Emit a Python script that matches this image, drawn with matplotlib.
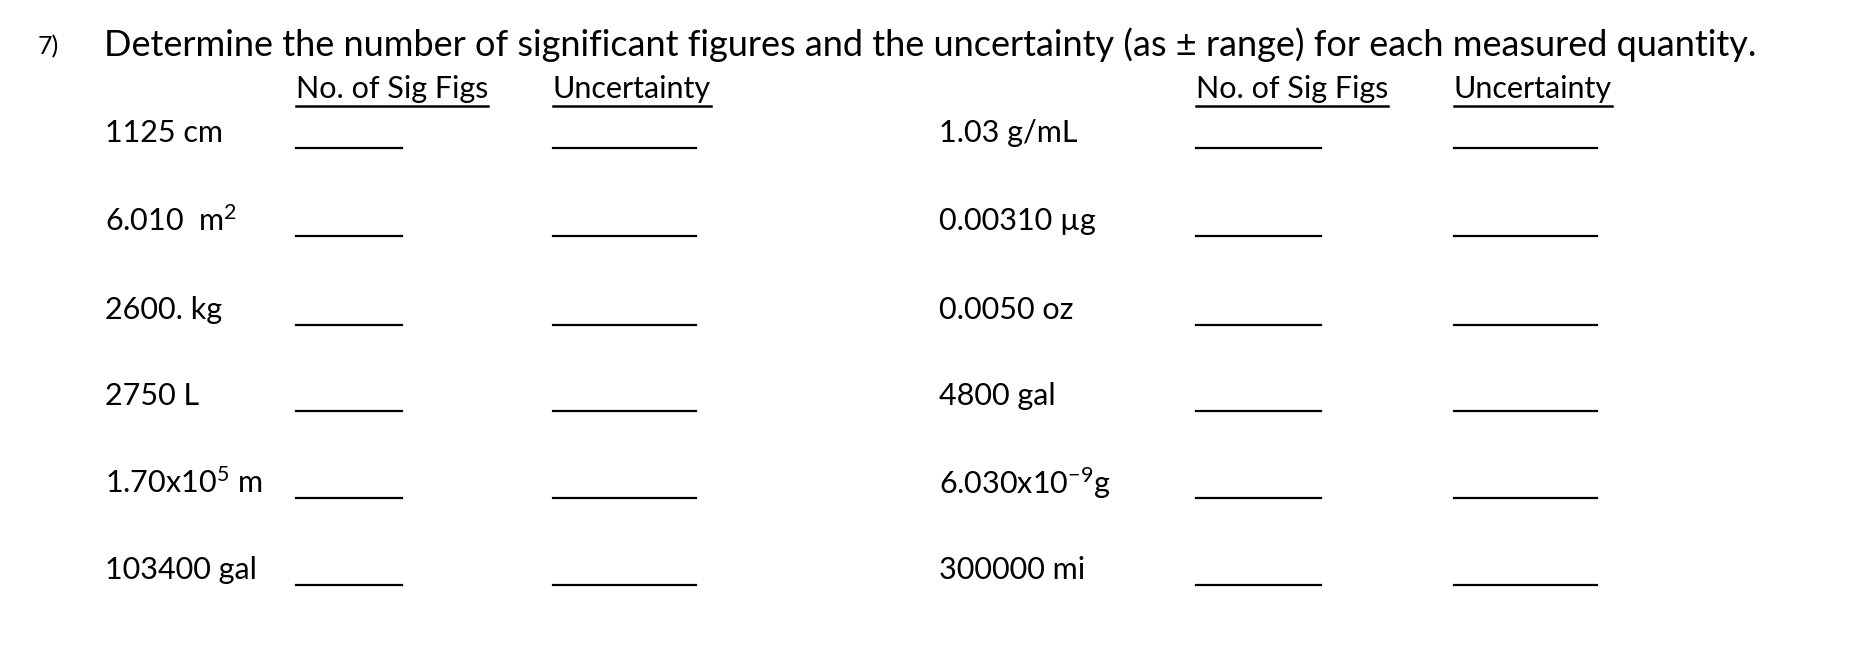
import matplotlib
matplotlib.use("Agg")
import matplotlib.pyplot as plt

plt.rcParams['font.family'] = ['Lato', 'DejaVu Sans']
plt.rcParams['mathtext.fontset'] = 'custom'
plt.rcParams['mathtext.rm'] = 'Lato'
plt.rcParams['mathtext.it'] = 'Lato'

question_number = "7)"
title = "Determine the number of significant figures and the uncertainty (as \u00b1 range) for each measured quantity."
headers = ["No. of Sig Figs", "Uncertainty"]
left_quantities = ["1125 cm", "6.010  m$^2$", "2600. kg", "2750 L", "1.70x10$^5$ m", "103400 gal"]
right_quantities = ["1.03 g/mL", "0.00310 \u00b5g", "0.0050 oz", "4800 gal", "6.030x10$^{-9}$g", "300000 mi"]

fig = plt.figure(figsize=(18.58, 6.72), dpi=100)
ax = fig.add_axes([0, 0, 1, 1])
ax.set_xlim(0, 1858)
ax.set_ylim(672, 0)
ax.axis('off')

ax.text(38, 47, question_number, fontsize=18, va='center', ha='left')
ax.text(104, 45, title, fontsize=26, va='center', ha='left')

# headers
for hx in [(296, 553), (1196, 1454)]:
    for x, h in zip(hx, headers):
        t = ax.text(x, 89, h, fontsize=22, va='center', ha='left')
        fig.canvas.draw()
        bb = t.get_window_extent()
        w = bb.width
        ax.plot([x, x + w], [106, 106], color='black', lw=1.8)

row_y = [133, 221, 310, 396, 483, 570]
blank_cols = [(296, 402), (553, 696), (1196, 1321), (1454, 1597)]
for i, y in enumerate(row_y):
    ax.text(105, y, left_quantities[i], fontsize=22, va='center', ha='left')
    ax.text(939, y, right_quantities[i], fontsize=22, va='center', ha='left')
    for x0, x1 in blank_cols:
        ax.plot([x0, x1], [y + 15, y + 15], color='black', lw=1.6)

fig.savefig("out.png", dpi=100, facecolor='white')
